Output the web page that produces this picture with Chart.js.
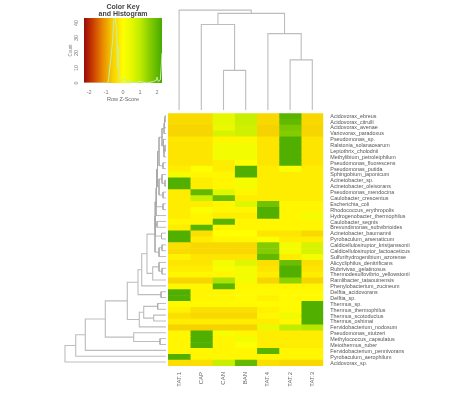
<!DOCTYPE html>
<html><head><meta charset="utf-8">
<script src="https://cdn.jsdelivr.net/npm/chart.js@4"></script>
<style>html,body{margin:0;padding:0;background:#fff}canvas{position:absolute;left:0;top:0;filter:blur(.35px)}</style>
</head><body>
<canvas id="heat" width="474" height="395"></canvas>
<canvas id="top" width="330" height="110" style="left:168px;top:0"></canvas>
<canvas id="left" width="166" height="253" style="left:0;top:113px"></canvas>
<canvas id="key" width="170" height="110"></canvas>
<script>
const columns = ["TAT.1","CAP","CAN","BAN","TAT.4","TAT.2","TAT.3"];
const species = ["Acidovorax_ebreus","Acidovorax_citrulli","Acidovorax_avenae","Variovorax_paradoxus","Pseudomonas_sp.","Ralstonia_solanacearum","Leptothrix_cholodnii","Methylibium_petroleiphilum","Pseudomonas_fluorescens","Pseudomonas_putida","Sphingobium_japonicum","Acinetobacter_sp.","Acinetobacter_oleivorans","Pseudomonas_mendocina","Caulobacter_crescentus","Escherichia_coli","Rhodococcus_erythropolis","Hydrogenobacter_thermophilus","Caulobacter_segnis","Brevundimonas_subvibrioides","Acinetobacter_baumannii","Pyrobaculum_arsenaticum","Caldicellulosiruptor_kristjanssonii","Caldicellulosiruptor_lactoaceticus","Sulfurihydrogenibium_azorense","Alicycliphilus_denitrificans","Rubrivivax_gelatinosus","Thermodesulfovibrio_yellowstonii","Ramlibacter_tataouinensis","Phenylobacterium_zucineum","Delftia_acidovorans","Delftia_sp.","Thermus_sp.","Thermus_thermophilus","Thermus_scotoductus","Thermus_oshimai","Fervidobacterium_nodosum","Pseudomonas_stutzeri","Methylococcus_capsulatus","Meiothermus_ruber","Fervidobacterium_pennivorans","Pyrobaculum_aerophilum","Acidovorax_sp."];

const zTAT1 = [-.45,-.45,-.55,-.55,-.25,-.3,-.3,-.3,-.3,-.2,.2,2.2,2.2,-.2,-.2,-.2,-.2,-.2,-.1,-.2,2.2,2.2,-.4,-.45,-.15,-.3,-.2,-.1,-.55,-.1,2.2,2.2,-.05,-.15,-.4,-.2,-.6,-.1,-.1,-.1,-.1,2.2,-.4];
const zCAP  = [-.45,-.45,-.55,-.55,-.25,-.3,-.3,-.3,-.3,.05,-.1,-.2,-.2,2.0,.9,-.2,.1,-.1,-.1,2.1,-.4,-.2,-.5,-.5,-.3,-.3,-.2,-.1,-.55,-.1,-.1,-.1,-.05,-.4,-.5,-.2,-.6,2.2,2.2,2.2,-.1,-.1,-.4];
const zCAN  = [.5,.5,.4,.7,-.1,.25,.25,.25,-.2,-.2,-.1,-.1,-.1,.6,1.9,-.1,-.1,-.2,2.1,-.1,.0,-.1,-.5,-.5,-.3,.25,.15,-.1,1.2,2.1,-.1,-.1,-.05,-.4,-.5,-.2,-.6,.15,-.1,-.1,-.1,-.1,.9];
const zBAN  = [.9,.9,.8,.8,-.1,.25,.25,.25,.05,2.2,2.2,.2,.2,-.1,-.2,.6,-.1,-.2,-.1,-.1,.0,-.1,-.5,-.5,-.3,.6,.25,.25,.2,-.1,-.05,-.05,-.05,-.4,-.5,-.2,-.6,-.1,.25,.05,-.1,-.1,2.0];
const zTAT4 = [-.5,-.5,-.6,-.6,-.3,-.3,-.3,-.3,-.3,-.2,-.2,-.2,-.2,-.2,-.2,1.8,2.2,2.2,-.1,-.1,-.3,.1,1.6,1.6,2.0,-.4,-.3,-.2,-.55,-.1,-.05,-.15,-.05,-.15,-.1,-.2,.4,-.2,-.2,-.2,2.1,-.1,-.4];
const zTAT2 = [2.1,2.0,1.7,1.6,2.2,2.2,2.2,2.2,2.2,.1,-.2,-.2,-.2,-.2,-.2,-.1,-.1,-.1,-.1,-.1,-.3,-.2,.25,.25,-.2,1.9,2.2,2.2,1.5,-.1,-.05,-.05,-.05,-.05,.3,-.1,1.0,-.2,-.2,-.2,-.1,-.1,-.5];
const zTAT3 = [-.5,-.5,-.55,-.55,-.3,-.3,-.3,-.3,-.3,-.2,-.2,-.2,-.2,-.2,-.2,-.1,-.1,.25,-.1,-.1,-.5,-.2,.7,.7,.2,-.4,-.3,-.2,-.55,-.1,-.05,-.05,2.2,2.2,2.2,2.2,1.1,-.2,-.2,-.2,-.1,-.1,-.5];
const zColumns = [zTAT1,zCAP,zCAN,zBAN,zTAT4,zTAT2,zTAT3];

const keyTicksX = [-2,-1,0,1,2];
const keyTicksY = [0,10,20,30,40];
const histX = [-2.3,-1.5,-.9,-.85,-.8,-.7,-.6,-.55,-.5,-.45,-.4,-.35,-.3,-.2,-.1,0,.1,.2,.4,.7,1,1.4,1.8,1.95,2,2.05,2.1,2.2,2.25,2.3];
const histY = [0,0,0,2,8,18,30,41,43,43,38,25,10,3,1,2,3,1,1,0,1,0,1,2,4,2,1,2,10,20];

// Dendrogram merges: child a, child b (leaf index, or 100+merge index), merge height
const colMergeA = [2,5,1,4,102,0];
const colMergeB = [3,6,100,101,103,104];
const colMergeH = [39.3,49.7,84.7,75.7,95.7,99];

const rowMergeA = [0,100,101,5,103,4,102,8,106,11,10,13,110,108,15,113,115,18,20,117,116,22,121,120,26,25,125,123,127,30,128,32,34,131,133,130,38,37,135,138,139,140];
const rowMergeB = [1,2,3,6,7,104,105,9,107,12,109,14,111,112,16,114,17,19,21,118,119,23,24,122,27,124,28,126,29,31,129,33,35,132,36,134,39,136,137,40,41,42];
const rowMergeH = [1,1.5,2,1,2,2.5,4,3,7,1,4,3,7,8.5,3,9.5,10,9,4.5,10.5,11,4,7,11,4,7,13.3,19,24.3,5,28,8.3,12.3,22.3,26.7,38.7,6,32.3,60.7,80.7,90.3,101];
</script>
<script>
const keyStops = [[-2.3,"#9a0a0a"],[-1.8,"#c83a00"],[-1.2,"#e88a00"],[-.6,"#f6d200"],[-.25,"#ffe800"],[0,"#ffff00"],[.5,"#e6f800"],[1,"#c0ec00"],[1.6,"#84cc00"],[2.3,"#48aa00"]];
function hex(c){return [1,3,5].map(i=>parseInt(c.substr(i,2),16));}
function zColor(z){
  for(let i=1;i<keyStops.length;i++){
    if(z<=keyStops[i][0]){
      const [a,ca]=keyStops[i-1],[b,cb]=keyStops[i],t=(z-a)/(b-a),A=hex(ca),B=hex(cb);
      return `rgb(${A.map((v,k)=>Math.round(v+(B[k]-v)*t)).join(",")})`;
    }
  }
  return keyStops[keyStops.length-1][1];
}
Chart.defaults.font.family = '"Liberation Sans", Arial, sans-serif';
Chart.defaults.color = "#666";
const base = {responsive:false,animation:false,maintainAspectRatio:false,events:[],plugins:{legend:{display:false},tooltip:{enabled:false}}};
const hidden={display:false};

// Heatmap
new Chart(document.getElementById("heat"),{
  type:"bar",
  data:{labels:species,datasets:zColumns.map((col)=>({
    label:"z",data:col.map(()=>1),
    backgroundColor:(c)=>zColor(col[c.dataIndex]),
    borderWidth:0,barPercentage:1,categoryPercentage:1
  }))},
  options:{...base,indexAxis:"y",
    layout:{padding:{left:168,top:113.3,right:0,bottom:0}},
    scales:{
      x:{stacked:true,min:0,max:7,grid:{display:false,drawTicks:false},border:{display:false},
        afterBuildTicks:(s)=>{s.ticks=columns.map((_,i)=>({value:i+.5}));},
        afterFit:(s)=>{s.height=29;},
        ticks:{autoSkip:false,minRotation:90,maxRotation:90,padding:6,font:{size:6},color:"#666",callback:(v)=>columns[v-.5]}},
      y:{stacked:true,position:"right",grid:{display:false,drawTicks:false},border:{display:false},
        afterFit:(s)=>{s.width=150.7;},
        ticks:{autoSkip:false,padding:7,font:{size:5.4},color:"#555"}}
    }}
});

function mergeLines(a,b,h,leafPos){
  const nodes=[],lines=[];
  const get=(r)=>r>=100?nodes[r-100]:{p:leafPos(r),d:0};
  a.forEach((_,i)=>{
    const A=get(a[i]),B=get(b[i]);
    lines.push([[A.d,A.p],[h[i],A.p],[h[i],B.p],[B.d,B.p]]);
    nodes.push({d:h[i],p:(A.p+B.p)/2});
  });
  return lines;
}
// Top dendrogram
new Chart(document.getElementById("top"),{
  type:"scatter",
  data:{datasets:mergeLines(colMergeA,colMergeB,colMergeH,(i)=>i+.5).map(l=>({
    data:l.map(q=>({x:q[1],y:q[0]})),showLine:true,pointRadius:0,borderColor:"#bdbdbd",borderWidth:1.1
  }))},
  options:{...base,layout:{padding:0},scales:{x:{...hidden,min:0,max:330/22.2},y:{...hidden,min:0,max:109}}}
});

// Left dendrogram
new Chart(document.getElementById("left"),{
  type:"scatter",
  data:{datasets:mergeLines(rowMergeA,rowMergeB,rowMergeH,(i)=>i+.5).map((l,i)=>({
    data:l.map(q=>({x:q[0],y:q[1]})),showLine:true,pointRadius:0,
    borderWidth:rowMergeH[i]<12?.8:1.1,borderColor:rowMergeH[i]<12?"#a8a8a8":"#bdbdbd"
  }))},
  options:{...base,layout:{padding:0},scales:{x:{...hidden,min:0,max:166,reverse:true},y:{...hidden,min:0,max:253/5.86,reverse:true}}}
});

// Colour key
const keyFill={id:"keyFill",beforeDatasetsDraw(ch){
  const {ctx,chartArea:a,scales:{x}}=ch;
  const g=ctx.createLinearGradient(a.left,0,a.right,0);
  keyStops.forEach(([z,c])=>g.addColorStop(Math.min(1,Math.max(0,(x.getPixelForValue(z)-a.left)/(a.right-a.left))),c));
  ctx.save();ctx.fillStyle=g;ctx.fillRect(a.left,a.top,a.right-a.left,a.bottom-a.top);ctx.restore();
}};
new Chart(document.getElementById("key"),{
  type:"scatter",
  data:{datasets:[{data:histX.map((x,i)=>({x,y:histY[i]})),showLine:true,pointRadius:0,borderColor:"#c6ecb0",borderWidth:1}]},
  plugins:[keyFill],
  options:{...base,
    layout:{padding:{left:0,right:8,top:4,bottom:0}},
    plugins:{...base.plugins,title:{display:true,fullSize:false,text:["Color Key","and Histogram"],color:"#444",padding:0,font:{size:7,weight:"bold",lineHeight:1}}},
    scales:{
      x:{type:"linear",min:-2.3,max:2.3,grid:{display:false,tickLength:3,tickColor:"#999"},border:{display:false},
        afterBuildTicks:(s)=>{s.ticks=keyTicksX.map(v=>({value:v}));},
        afterFit:(s)=>{s.height=27;},
        ticks:{padding:3,font:{size:5.5},color:"#777",maxRotation:0},
        title:{display:true,text:"Row Z-Score",font:{size:5.5},color:"#666",padding:{top:0,bottom:7}}},
      y:{min:0,max:43.3,grid:{display:false,tickLength:3,tickColor:"#999"},border:{display:false},
        afterBuildTicks:(s)=>{s.ticks=keyTicksY.map(v=>({value:v}));},
        afterFit:(s)=>{s.width=84;},
        ticks:{padding:1,minRotation:90,maxRotation:90,crossAlign:"center",font:{size:5.5},color:"#777"},
        title:{display:true,text:"Count",font:{size:4.5},color:"#888",padding:{top:68,bottom:0}}}
    }}
});
</script>
</body></html>
